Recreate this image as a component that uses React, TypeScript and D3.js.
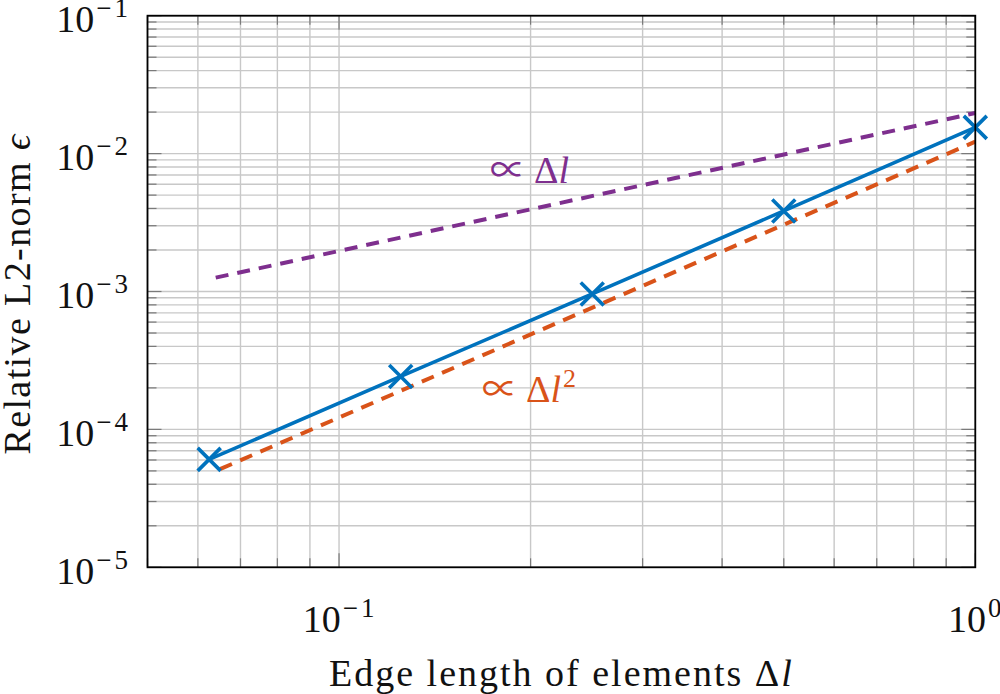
import React, {useEffect, useRef} from 'react';
import * as d3 from 'd3';

// measured convergence data
const edgeLengths = [0.0625, 0.125, 0.25, 0.5, 1];
const errors = [6.06e-5, 2.42e-4, 9.6e-4, 3.84e-3, 1.55e-2];

// reference slopes
const linearRefX = [0.064, 1];
const linearRefY = [1.26e-3, 1.97e-2];
const quadRefX = [0.065, 1];
const quadRefY = [5.15e-5, 1.22e-2];

const xTickValues = [0.1, 1];
const xTickExponents = ['−1', '0'];
const yTickValues = [1e-5, 1e-4, 1e-3, 1e-2, 1e-1];
const yTickExponents = ['−5', '−4', '−3', '−2', '−1'];

const BLUE = '#0072BD';
const ORANGE = '#D95319';
const PURPLE = '#7E2F8E';
const FONT = "'Liberation Serif', serif";
const SYMBOL_FONT = "'Noto Sans CJK JP', 'DejaVu Serif', serif";

export default function App() {
  const ref = useRef<SVGSVGElement>(null);

  useEffect(() => {
    const svg = d3.select(ref.current);
    svg.selectAll('*').remove();

    const left = 147.5, right = 975.3, top = 15.7, bottom = 567.3;

    const x = d3.scaleLog().domain([0.05, 1]).range([left, right]);
    const y = d3.scaleLog().domain([1e-5, 1e-1]).range([bottom, top]);

    // all 1..9 multiples for grid
    const xGrid: number[] = [];
    [0.01, 0.1].forEach(d => d3.range(1, 10).forEach(k => {
      const v = +(d * k).toPrecision(3);
      if (v >= 0.05 && v <= 1) xGrid.push(v);
    }));
    xGrid.push(1);
    const yGrid: number[] = [];
    [1e-5, 1e-4, 1e-3, 1e-2].forEach(d => d3.range(1, 10).forEach(k => yGrid.push(d * k)));
    yGrid.push(1e-1);

    const g = svg.append('g');

    g.selectAll('.vgrid').data(xGrid).enter().append('line')
      .attr('x1', d => x(d)).attr('x2', d => x(d))
      .attr('y1', top).attr('y2', bottom)
      .attr('stroke', '#c8c8c8').attr('stroke-width', 1.4);
    g.selectAll('.hgrid').data(yGrid).enter().append('line')
      .attr('y1', d => y(d)).attr('y2', d => y(d))
      .attr('x1', left).attr('x2', right)
      .attr('stroke', '#c8c8c8').attr('stroke-width', 1.4);

    // inward ticks on all four sides
    const isMajor = (v: number) => Math.abs(Math.log10(v) - Math.round(Math.log10(v))) < 1e-6;
    const tickLen = (v: number) => (isMajor(v) ? 14 : 9);
    const ticks = g.append('g').attr('stroke', '#7a7a7a').attr('stroke-width', 1.2);
    xGrid.forEach(v => {
      ticks.append('line').attr('x1', x(v)).attr('x2', x(v)).attr('y1', bottom).attr('y2', bottom - tickLen(v));
      ticks.append('line').attr('x1', x(v)).attr('x2', x(v)).attr('y1', top).attr('y2', top + tickLen(v));
    });
    yGrid.forEach(v => {
      ticks.append('line').attr('y1', y(v)).attr('y2', y(v)).attr('x1', left).attr('x2', left + tickLen(v));
      ticks.append('line').attr('y1', y(v)).attr('y2', y(v)).attr('x1', right).attr('x2', right - tickLen(v));
    });

    // reference lines
    const line = d3.line<[number, number]>().x(d => x(d[0])).y(d => y(d[1]));
    g.append('path')
      .attr('d', line(linearRefX.map((v, i) => [v, linearRefY[i]]) as [number, number][]))
      .attr('fill', 'none').attr('stroke', PURPLE).attr('stroke-width', 4)
      .attr('stroke-dasharray', '13 9');
    g.append('path')
      .attr('d', line(quadRefX.map((v, i) => [v, quadRefY[i]]) as [number, number][]))
      .attr('fill', 'none').attr('stroke', ORANGE).attr('stroke-width', 4)
      .attr('stroke-dasharray', '13 9');

    // measured error
    g.append('path')
      .attr('d', line(edgeLengths.map((v, i) => [v, errors[i]]) as [number, number][]))
      .attr('fill', 'none').attr('stroke', BLUE).attr('stroke-width', 3.6);
    const s = 11.5;
    edgeLengths.forEach((v, i) => {
      const cx = x(v), cy = y(errors[i]);
      g.append('path')
        .attr('d', `M${cx - s},${cy - s}L${cx + s},${cy + s}M${cx - s},${cy + s}L${cx + s},${cy - s}`)
        .attr('stroke', BLUE).attr('stroke-width', 3.6).attr('fill', 'none');
    });

    // frame
    g.append('rect')
      .attr('x', left).attr('y', top).attr('width', right - left).attr('height', bottom - top)
      .attr('fill', 'none').attr('stroke', '#000').attr('stroke-width', 1.8);

    // tick labels
    const powerLabel = (sel: d3.Selection<SVGTextElement, unknown, null, undefined>, exp: string) => {
      sel.append('tspan').text('10');
      sel.append('tspan').attr('dy', -15).attr('dx', 2).attr('font-size', 27)
        .attr('letter-spacing', 3).text(exp);
    };
    yTickValues.forEach((v, i) => {
      const t = svg.append('text')
        .attr('x', 131).attr('y', y(v) + 16.5)
        .attr('text-anchor', 'end')
        .attr('font-family', FONT).attr('font-size', 38).attr('fill', '#111');
      powerLabel(t as any, yTickExponents[i]);
    });
    xTickValues.forEach((v, i) => {
      const t = svg.append('text')
        .attr('x', x(v) + 1).attr('y', 632)
        .attr('text-anchor', 'middle')
        .attr('font-family', FONT).attr('font-size', 38).attr('fill', '#111');
      powerLabel(t as any, xTickExponents[i]);
    });

    // axis labels
    const xl = svg.append('text')
      .attr('x', (left + right) / 2).attr('y', 686)
      .attr('text-anchor', 'middle')
      .attr('font-family', FONT).attr('font-size', 38).attr('letter-spacing', 2)
      .attr('fill', '#111');
    xl.append('tspan').text('Edge length of elements Δ');
    xl.append('tspan').attr('font-style', 'italic').text('l');

    const yl = svg.append('text')
      .attr('transform', `translate(30,294) rotate(-90)`)
      .attr('text-anchor', 'middle')
      .attr('font-family', FONT).attr('font-size', 38).attr('letter-spacing', 1.4)
      .attr('fill', '#111');
    yl.append('tspan').text('Relative L2-norm ');
    yl.append('tspan').attr('font-style', 'italic').text('ϵ');

    // slope annotations
    const a1 = svg.append('text')
      .attr('x', 490).attr('y', 183)
      .attr('font-family', FONT).attr('font-size', 38).attr('fill', PURPLE);
    a1.append('tspan').attr('font-family', SYMBOL_FONT).attr('font-size', 36).text('∝');
    a1.append('tspan').attr('dx', 8).text('Δ');
    a1.append('tspan').attr('font-style', 'italic').text('l');

    const a2 = svg.append('text')
      .attr('x', 482).attr('y', 402)
      .attr('font-family', FONT).attr('font-size', 38).attr('fill', ORANGE);
    a2.append('tspan').attr('font-family', SYMBOL_FONT).attr('font-size', 36).text('∝');
    a2.append('tspan').attr('dx', 8).text('Δ');
    a2.append('tspan').attr('font-style', 'italic').text('l');
    a2.append('tspan').attr('dy', -15).attr('dx', 2).attr('font-size', 26).text('2');
  }, []);

  return (
    <svg ref={ref} width={1000} height={694}
      style={{position: 'absolute', left: 0, top: 0, background: '#fff'}} />
  );
}
